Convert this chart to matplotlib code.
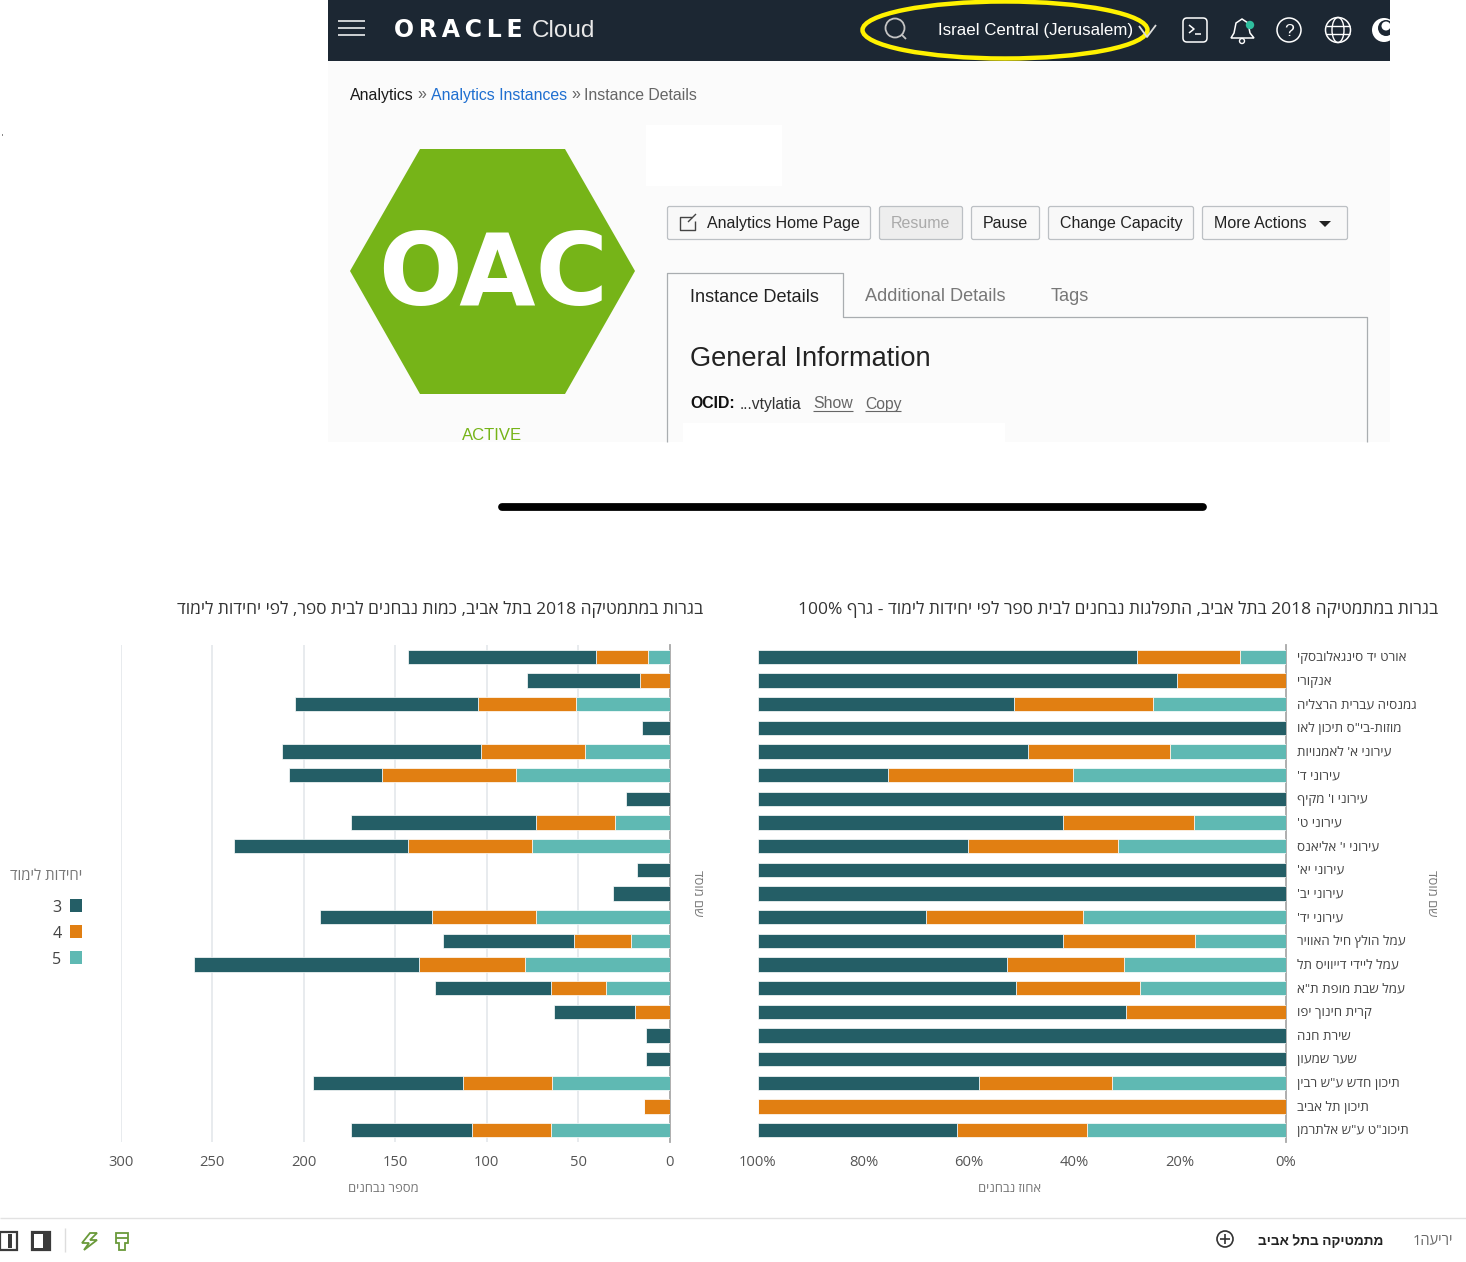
import re
import numpy as np
import matplotlib
matplotlib.use("Agg")
import matplotlib.pyplot as plt
from matplotlib.patches import Rectangle, Circle, Ellipse, Polygon, FancyBboxPatch
from matplotlib.transforms import ScaledTranslation

plt.rcParams['font.family'] = ['Open Sans', 'Liberation Sans', 'DejaVu Sans']

schools = ['אורט יד סינגאלובסקי', 'אנקורי', 'גמנסיה עברית הרצליה', 'מוזות-בי"ס תיכון לאו',
           "עירוני א' לאמנויות", "עירוני ד'", "עירוני ו' מקיף", "עירוני ט'", "עירוני י' אליאנס",
           "עירוני יא'", "עירוני יב'", "עירוני יד'", 'עמל הולץ חיל האוויר', 'עמל ליידי דייוויס תל',
           'עמל שבת מופת ת"א', 'קרית חינוך יפו', 'שירת חנה', 'שער שמעון', 'תיכון חדש ע"ש רבין',
           'תיכון תל אביב', 'תיכונ"ט ע"ש אלתרמן']

# number of examinees per level
count_3 = [103, 62, 100, 15, 109, 51, 24, 101, 95, 18, 31, 61, 72, 123, 63, 44, 13, 13, 82, 0, 66]
count_4 = [28, 16, 54, 0, 57, 73, 0, 43, 68, 0, 0, 57, 31, 58, 30, 19, 0, 0, 49, 14, 43]
count_5 = [12, 0, 51, 0, 46, 84, 0, 30, 75, 0, 0, 73, 21, 79, 35, 0, 0, 0, 64, 0, 65]

# share of examinees per level
pct_3 = [71.8, 79.4, 48.5, 100, 51.2, 24.6, 100, 57.8, 39.8, 100, 100, 31.8, 57.8, 47.2, 48.9, 69.8, 100, 100, 41.9, 0, 37.7]
pct_4 = [19.6, 20.6, 26.4, 0, 26.9, 35.1, 0, 24.8, 28.4, 0, 0, 29.8, 25.0, 22.2, 23.5, 30.2, 0, 0, 25.2, 100, 24.7]
pct_5 = [8.6, 0, 25.1, 0, 21.9, 40.3, 0, 17.4, 31.8, 0, 0, 38.4, 17.2, 30.6, 27.6, 0, 0, 0, 32.9, 0, 37.6]

levels = ['3', '4', '5']
count_ticks = [300, 250, 200, 150, 100, 50, 0]
pct_ticks = [100, 80, 60, 40, 20, 0]

title_left = 'בגרות במתמטיקה 2018 בתל אביב, כמות נבחנים לבית ספר, לפי יחידות לימוד'
title_right = 'בגרות במתמטיקה 2018 בתל אביב, התפלגות נבחנים לבית ספר לפי יחידות לימוד - גרף 100%'

DARK = '#245e66'
ORANGE = '#e17f12'
TEAL = '#5fb9b3'
NAVY = '#1c2733'
W, H = 1466, 1262


def rtl(s):
    # matplotlib has no bidi, so put the hebrew in visual order by hand
    return ''.join(re.findall(r'[0-9.%]+|[^0-9.%]', s)[::-1])


def box(x0, y0, x1, y1):
    return [x0 / W, 1 - y1 / H, (x1 - x0) / W, (y1 - y0) / H]


fig = plt.figure(figsize=(W / 100, H / 100), dpi=100, facecolor='white')

bg = fig.add_axes([0, 0, 1, 1])
bg.set_xlim(0, W)
bg.set_ylim(H, 0)
bg.axis('off')
UI = ['Liberation Sans', 'DejaVu Sans']
FONT = plt.rcParams['font.family']


def line(xs, ys, color, lw=1.0, **kw):
    bg.plot(xs, ys, color=color, lw=lw, solid_capstyle=kw.pop('cap', 'butt'), **kw)


def label(x, y, s, size, color='#333333', ha='left', family=UI, **kw):
    bg.text(x, y, s, fontsize=size, color=color, ha=ha, va='center', family=family, **kw)


# ---- screenshot on top
bg.add_patch(Rectangle((328, 61), 1062, 381, color='#fbfbfb', lw=0))
bg.add_patch(Rectangle((328, 0), 1062, 61, color=NAVY, lw=0))
for y in (21, 28, 35):
    line([338, 365], [y, y], 'white', 1.1)
gap = '\u200a\u200a'
label(394, 30, gap.join('ORACLE'), 17, 'white', family=['DejaVu Sans'], fontweight='bold')
label(532, 31, 'Cloud', 17.5, '#e8e8e8')
bg.add_patch(Ellipse((1005, 30), 285, 57, fill=False, ec='#fff200', lw=3.2))
bg.add_patch(Circle((895, 28), 9.5, fill=False, ec='#c4c4c4', lw=1.3))
line([902, 906], [35, 39], '#c4c4c4', 1.3)
label(938, 30.5, 'Israel Central (Jerusalem)', 12.2, 'white')
line([1139, 1147, 1156], [26, 37, 25], '#dddddd', 1.3)
bg.add_patch(FancyBboxPatch((1184, 19), 22, 22, boxstyle='round,pad=1,rounding_size=4', fill=False, ec='white', lw=1.1))
line([1189, 1194, 1189], [25, 29, 33], 'white', 1.1)
line([1195, 1201], [34, 34], 'white', 1.1)
bg.add_patch(Polygon([[1231, 38], [1254, 38], [1250, 33], [1248, 23], [1242, 19], [1236, 23], [1234, 33]], fill=False, ec='white', lw=1.1))
bg.add_patch(Circle((1242, 41), 2.5, fill=False, ec='white', lw=1))
bg.add_patch(Circle((1250, 25), 4.2, color='#2fbf9f', lw=0))
bg.add_patch(Circle((1289, 30), 12, fill=False, ec='white', lw=1.1))
label(1289, 31, '?', 12.5, 'white', ha='center')
bg.add_patch(Circle((1338, 30), 12.5, fill=False, ec='white', lw=1.1))
bg.add_patch(Ellipse((1338, 30), 12, 25, fill=False, ec='white', lw=1))
line([1326, 1350], [26, 26], 'white', 1)
line([1326, 1350], [34, 34], 'white', 1)
bg.add_patch(Circle((1384, 30), 12, color='white', lw=0))
bg.add_patch(Circle((1386, 28), 8, color=NAVY, lw=0))
bg.add_patch(Circle((1386, 26), 4.5, color='white', lw=0))
bg.add_patch(Rectangle((1390, 0), 76, 62, color='white', lw=0, zorder=3))

label(350, 95.5, 'Analytics', 11.4, '#1a1a1a')
label(417, 95, '»', 11.4, '#666666')
label(431, 95.5, 'Analytics Instances', 11.4, '#1f6fd0')
label(571, 95, '»', 11.4, '#666666')
label(584, 95, 'Instance Details', 11.4, '#666666')
bg.add_patch(Rectangle((646, 125), 136, 61, color='white', lw=0))

bg.add_patch(Polygon([[350, 271], [420, 149], [565, 149], [635, 271], [565, 394], [420, 394]], color='#76b418', lw=0))
bg.text(493, 278, 'OAC', fontsize=71, color='white', fontweight='bold', ha='center', va='center', family=['DejaVu Sans'])
label(492, 435, 'ACTIVE', 12, '#76b418', ha='center')

buttons = [(667, 871, 'Analytics Home Page', 707), (879, 963, 'Resume', 891), (971, 1040, 'Pause', 983),
           (1048, 1194, 'Change Capacity', 1060), (1202, 1348, 'More Actions', 1214)]
for x0, x1, name, tx in buttons:
    off = name == 'Resume'
    bg.add_patch(FancyBboxPatch((x0 + 2.5, 208.5), x1 - x0 - 5, 29, boxstyle='round,pad=2,rounding_size=2',
                                fc='#eeeeee' if off else '#f8f8f8', ec='#bcc0c4', lw=0.9))
    label(tx, 223.5, name, 11.5, '#aaaaaa' if off else '#222222')
line([692, 680, 680, 695, 695], [217, 217, 230, 230, 221], '#444444', 1)
line([688, 696], [222, 214], '#444444', 1)
bg.add_patch(Polygon([[1319, 221], [1331, 221], [1325, 227]], color='#222222', lw=0))

line([667, 667, 843, 843, 1367, 1367], [442, 273, 273, 316.5, 316.5, 442], '#a9adb0', 0.9)
label(690, 297, 'Instance Details', 13.1, '#222222')
label(865, 296.5, 'Additional Details', 13.1, '#777777')
label(1051, 296.5, 'Tags', 13.1, '#777777')
label(690, 359, 'General Information', 19.6, '#222222')
label(690, 403, 'OCID:', 11.4, '#111111', fontweight='bold')
label(740, 404, '...vtylatia', 11.3, '#333333')
label(813, 403, 'Show', 11.4, '#666666')
line([813, 853], [411, 411], '#666666', 0.8)
label(865, 404, 'Copy', 11.3, '#666666')
line([865, 901], [411, 411], '#666666', 0.8)
bg.add_patch(Rectangle((683, 423), 322, 19, color='white', lw=0))

line([502, 1203], [507, 507], 'black', 5.6, cap='round')
bg.add_patch(Rectangle((2, 134), 1.2, 2, color='#888888', lw=0))


# ---- the two charts
def stacked(ax, v5, v4, v3):
    y = np.arange(len(schools))
    v5, v4, v3 = np.array(v5), np.array(v4), np.array(v3)
    ax.barh(y, v5, height=0.6, color=TEAL, edgecolor='white', linewidth=0.5, zorder=3)
    ax.barh(y, v4, left=v5, height=0.6, color=ORANGE, edgecolor='white', linewidth=0.5, zorder=3)
    ax.barh(y, v3, left=v5 + v4, height=0.6, color=DARK, edgecolor='white', linewidth=0.5, zorder=3)
    ax.set_ylim(20.5, -0.5)
    ax.set_yticks(y)
    ax.tick_params(length=0)
    ax.tick_params(axis='x', pad=9.2, labelsize=10.6, labelcolor='#555555')
    for s in ('top', 'left', 'bottom'):
        ax.spines[s].set_visible(False)
    ax.spines['right'].set_color('#a8a8a8')
    ax.spines['right'].set_linewidth(1.3)
    ax.set_facecolor('none')


ax1 = fig.add_axes(box(121, 645, 669.5, 1142))
stacked(ax1, count_5, count_4, count_3)
ax1.set_xlim(300, 0)
ax1.set_xticks(count_ticks)
ax1.set_yticklabels([])
ax1.grid(axis='x', color='#e6e9ed', lw=1.3, zorder=0)

ax2 = fig.add_axes(box(758, 645, 1285.5, 1142))
stacked(ax2, pct_5, pct_4, pct_3)
ax2.set_xlim(100, 0)
ax2.set_xticks(pct_ticks)
ax2.set_xticklabels([f'{t}%' for t in pct_ticks])
ax2.yaxis.tick_right()
ax2.set_yticklabels([rtl(s) for s in schools], fontsize=9.6, color='#444444')
ax2.tick_params(axis='y', pad=8)
up = ScaledTranslation(0, 1.0 / 100, fig.dpi_scale_trans)
for t in ax2.get_yticklabels():
    t.set_transform(t.get_transform() + up)

label(703, 609, rtl(title_left), 12.5, '#333333', ha='right', family=FONT)
label(1438, 609, rtl(title_right), 12.5, '#333333', ha='right', family=FONT)

label(383, 1188, rtl('מספר נבחנים'), 9.4, '#777777', ha='center', family=FONT)
label(1009, 1188, rtl('אחוז נבחנים'), 9.4, '#777777', ha='center', family=FONT)
for x in (697, 1431):
    bg.text(x, 893, rtl('שם מוסד'), fontsize=9.4, color='#777777', rotation=-90, ha='center', va='center', family=FONT)

# legend
label(46, 876, rtl('יחידות לימוד'), 10.7, '#777777', ha='center', family=FONT)
for lev, col, y in zip(levels, [DARK, ORANGE, TEAL], [905.5, 931.5, 957.5]):
    bg.add_patch(Rectangle((70, y - 6.5), 12, 12.5, color=col, lw=0))
    label(57, y + 2, lev, 11.6, '#444444', ha='center', family=FONT)

# ---- workbook footer
line([0, W], [1218, 1218], '#e2e2e2', 1)
line([65, 65], [1228, 1252], '#dddddd', 1)
bg.add_patch(Rectangle((0, 1232), 17, 18, fc='white', ec='#3a3a3a', lw=1.6))
bg.add_patch(Rectangle((8, 1234), 4, 14, color='#3a3a3a', lw=0))
bg.add_patch(Rectangle((32, 1232), 18, 18, fc='#3a3a3a', ec='#3a3a3a', lw=1.6))
bg.add_patch(Rectangle((34, 1234), 9, 14, color='white', lw=0))
bg.add_patch(Polygon([[90, 1233], [82, 1243], [89, 1243], [84, 1250], [97, 1240], [90, 1240], [97, 1233]], fill=False, ec='#6a9a3a', lw=1.3))
bg.add_patch(Polygon([[116, 1233], [128, 1233], [128, 1243], [125, 1243], [125, 1250], [119, 1250], [119, 1243], [116, 1243]], fill=False, ec='#6a9a3a', lw=1.3))
line([116, 128], [1238, 1238], '#6a9a3a', 1.3)
bg.add_patch(Circle((1225, 1239), 8, fill=False, ec='#333333', lw=1.2))
line([1220, 1230], [1239, 1239], '#333333', 1.2)
line([1225, 1225], [1234, 1244], '#333333', 1.2)
label(1383, 1240.5, rtl('מתמטיקה בתל אביב'), 9.8, '#222222', ha='right', family=FONT, fontweight='bold')
label(1453, 1241.5, rtl('יריעה1'), 10.5, '#666666', ha='right', family=FONT)

fig.savefig('out.png', dpi=100)
